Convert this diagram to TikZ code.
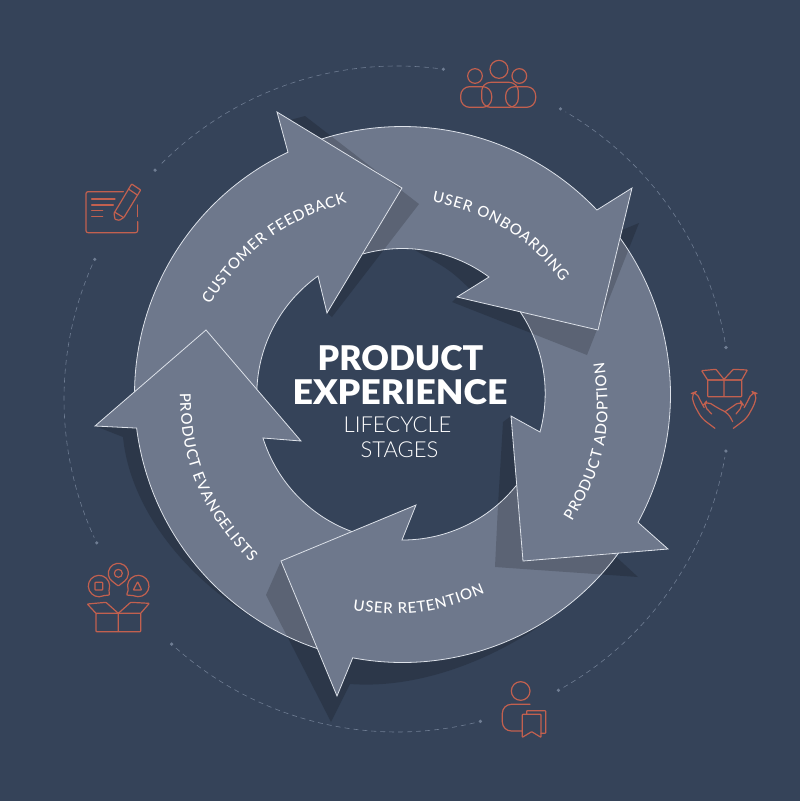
\documentclass[tikz,border=0pt]{standalone}
\usepackage{fontspec}
\setmainfont{Lato}
\newfontfamily\titlefont{Lato Black}
\newfontfamily\thinfont{Lato Light}
\newfontfamily\labelfont{Lato Medium}
\usetikzlibrary{decorations.text}

\definecolor{boardblue}{HTML}{354359}
\definecolor{petalgray}{HTML}{6E788C}
\definecolor{petaledge}{HTML}{DDE2EA}
\definecolor{iconred}{HTML}{C2604F}
\definecolor{ringgray}{HTML}{6F7D93}

\tikzset{
  petalfill/.style={fill=petalgray},
  petalline/.style={draw=petaledge,line width=0.8pt,line join=miter},
  castshadow/.style={fill=black,fill opacity=0.17},
  ringline/.style={draw=ringgray,line width=0.6pt,dash pattern=on 5pt off 4pt},
  ringdot/.style={fill=ringgray},
  iconline/.style={draw=iconred,line width=1.2pt,line join=round,line cap=round,rounded corners=0.6pt},
  iconzoom/.style={scale=0.3333,yscale=-1},
  stagelabel/.style={decorate,decoration={text along path,text align={fit to path},text color=white}}
}

% petals, in pixel coordinates, y down
\newcommand\petalOnboard{([shift={(hub)}]107.6:268) arc[start angle=107.6,end angle=43.5,radius=268] -- (632,-188) -- (598,-330) -- (457,-297) -- (489,-277) arc[start angle=53.6,end angle=105.6,radius=146]}
\newcommand\petalAdopt{([shift={(hub)}]35.7:268) arc[start angle=35.7,end angle=-28.5,radius=268] -- (668,-549) -- (523,-561) -- (511,-416) -- (540,-432) arc[start angle=-15.3,end angle=34.2,radius=146]}
\newcommand\petalRetain{([shift={(hub)}]-36.3:268) arc[start angle=-36.3,end angle=-100.7,radius=268] -- (337,-696) -- (281,-561) -- (416,-505) -- (402,-540) arc[start angle=-90.2,end angle=-38.6,radius=146]}
\newcommand\petalEvang{([shift={(hub)}]251.5:268) arc[start angle=251.5,end angle=187.2,radius=268] -- (95,-426) -- (206,-330) -- (301,-441) -- (263,-438) arc[start angle=197.3,end angle=249.7,radius=146]}
\newcommand\petalFeedback{([shift={(hub)}]179.4:268) arc[start angle=179.4,end angle=115.3,radius=268] -- (277,-112) -- (402,-188) -- (327,-313) -- (318,-276) arc[start angle=125.5,end angle=177.8,radius=146]}

\begin{document}
\begin{tikzpicture}[x=1pt,y=1pt]
  \useasboundingbox (0,0) rectangle (800,-801);
  \fill[boardblue] (0,0) rectangle (800,-801);
  \coordinate (hub) at (402.5,-394.5);
  \coordinate (ring) at (397,-399);
%
  % dashed ring
  \foreach \from/\to in {82/136.6,155.2/205.6,227.4/284.5,299/351,8.9/60.6}{
    \pgfmathsetmacro\dashfrom{\from+1}
    \pgfmathsetmacro\dashto{\to-1}
    \draw[ringline] ([shift={(ring)}]\dashfrom:333) arc[start angle=\dashfrom,end angle=\dashto,radius=333];
    \fill[ringdot] ([shift={(ring)}]\from:333) circle (1.8);
    \fill[ringdot] ([shift={(ring)}]\to:333) circle (1.8);
  }
%
  % petal bodies, each closed through the tip that covers its tail
  \foreach \petal/\tip in {\petalOnboard/{(402,-188)},\petalAdopt/{(598,-330)},\petalRetain/{(523,-561)},\petalEvang/{(281,-561)},\petalFeedback/{(206,-330)}}
    \fill[petalfill] \petal -- \tip -- cycle;
%
  % shadows
  \fill[castshadow] (290,-120) -- (305,-116) -- (419,-204) -- (332,-317) -- (327,-313) -- (402,-188) -- cycle;
  \fill[castshadow] (622,-230) -- (639,-223) -- (587,-355) -- (452,-302) -- (457,-297) -- (598,-330) -- cycle;
  \fill[castshadow] ([shift={(hub)}]86:146) arc[start angle=86,end angle=53.6,radius=146] -- (470,-289) .. controls (450,-270) .. cycle;
  \fill[castshadow] (511,-416) -- (503,-422) -- (498,-505) -- (495,-567) -- (638,-577) -- (612,-553) -- (523,-561) -- cycle;
  \fill[castshadow] (281,-561) -- (266,-595) -- (331,-722) -- (350,-684) .. controls (430,-690) and (520,-650) .. ([shift={(hub)}]-47:268) arc[start angle=-47,end angle=-100.7,radius=268] -- (337,-696) -- cycle;
  \fill[castshadow] (95,-426) -- (123,-437) .. controls (130,-510) and (190,-590) .. ([shift={(hub)}]244.5:268) arc[start angle=244.5,end angle=187.2,radius=268] -- cycle;
%
  % petal outlines
  \foreach \petal in {\petalOnboard,\petalAdopt,\petalRetain,\petalEvang,\petalFeedback}
    \draw[petalline] \petal;
%
  % centre text
  \node[anchor=base,text=white,font=\titlefont\fontsize{34}{34}\selectfont] (title1) at (400.5,-370) {PRODUCT};
  \node[anchor=base,text=white,xscale=1.05,font=\titlefont\fontsize{34}{34}\selectfont] (title2) at (400,-404) {EXPERIENCE};
  \node[anchor=base,text=white,font=\thinfont\fontsize{22}{22}\selectfont] (sub1) at (397.5,-432) {LIFECYCLE};
  \node[anchor=base,text=white,font=\thinfont\fontsize{22}{22}\selectfont] (sub2) at (399.5,-457) {STAGES};
%
  % stage labels
  \path[stagelabel,decoration={text={|\labelfont\fontsize{15}{15}\selectfont|USER ONBOARDING}}] (432,-202) to[bend left=20] (562,-282);
  \path[stagelabel,decoration={text={|\labelfont\fontsize{15}{15}\selectfont|PRODUCT ADOPTION}}] (572,-521) to[bend right=20] (604,-362);
  \path[stagelabel,decoration={text={|\labelfont\fontsize{15}{15}\selectfont|USER RETENTION}}] (353,-610) to[bend right=16] (485,-593);
  \path[stagelabel,decoration={text={|\labelfont\fontsize{15}{15}\selectfont|PRODUCT EVANGELISTS}}] (180,-393) to[bend right=22] (251,-562);
  \path[stagelabel,decoration={text={|\labelfont\fontsize{15}{15}\selectfont|CUSTOMER FEEDBACK}}] (210,-305) to[bend left=21] (347,-203);
%
  % people icon
  \begin{scope}[shift={(440,-40)},iconzoom]
    \draw[iconline] (105,108) circle (22) (177,88) circle (27) (238,108) circle (22);
    \draw[iconline,rounded corners=9pt] (62,202) -- (62,140) -- (155,140) -- (155,202) -- cycle;
    \draw[iconline,rounded corners=9pt] (125,202) -- (125,127) -- (235,127) -- (235,202) -- cycle;
    \draw[iconline,rounded corners=9pt] (197,202) -- (197,140) -- (287,140) -- (287,202) -- cycle;
  \end{scope}
  % note icon
  \begin{scope}[shift={(60,-40)},iconzoom]
    \draw[iconline,rounded corners=2pt] (190,455) -- (78,455) -- (78,578) -- (233,578) -- (233,545);
    \draw[iconline] (233,530) -- (233,495);
    \draw[iconline] (95,477) -- (165,477) (95,495) -- (160,495) (95,512) -- (128,512) (95,530) -- (128,530);
    \draw[iconline] (215,432) -- (242,450) -- (192,532) -- (178,541) -- (165,538) -- (162,520) -- cycle;
    \draw[iconline] (205,447) -- (232,465) (165,517) -- (190,532);
  \end{scope}
  % hands and box icon
  \begin{scope}[shift={(660,-340)},iconzoom]
    \draw[iconline] (143,120) rectangle (245,170) (192,118) -- (192,170);
    \draw[iconline] (143,120) -- (125,92) -- (168,88) -- (192,118) -- (220,88) -- (262,90) -- (245,120) -- cycle;
    \draw[iconline,rounded corners=5pt] (165,265) -- (125,235) -- (100,190) -- (95,160) -- (108,155) -- (125,190) -- (128,195);
    \draw[iconline,rounded corners=5pt] (155,222) -- (130,195) -- (140,183) -- (175,205) -- (205,220) -- (218,245);
    \draw[iconline,rounded corners=5pt] (220,265) -- (260,235) -- (285,190) -- (290,160) -- (277,155) -- (260,190) -- (257,195);
    \draw[iconline,rounded corners=5pt] (228,222) -- (250,195) -- (242,183) -- (195,215);
  \end{scope}
  % open box icon
  \begin{scope}[shift={(70,-540)},iconzoom]
    \draw[iconline] (78,220) rectangle (212,275) (145,220) -- (145,275);
    \draw[iconline] (78,220) -- (52,192) -- (108,187) -- (145,220) -- (182,187) -- (238,190) -- (212,220);
    \draw[iconline] (145,138) -- (127.8,124.6) arc[start angle=125,end angle=415,radius=30] -- cycle;
    \draw[iconline] (118,165) -- (100.5,167) arc[start angle=65,end angle=380,radius=32] -- cycle;
    \draw[iconline] (170,165) -- (174.9,148.9) arc[start angle=160,end angle=475,radius=32] -- cycle;
    \draw[iconline] (145,100) circle (12) (75,127) rectangle (98,150) (203,125) -- (190,150) -- (215,150) -- cycle;
  \end{scope}
  % person and bookmark icon
  \begin{scope}[shift={(470,-660)},iconzoom]
    \draw[iconline] (152,93) circle (28);
    \draw[iconline,rounded corners=9pt] (180,133) -- (97,133) -- (97,213) -- (155,213);
    \draw[iconline] (157,163) -- (213,163) -- (213,232) -- (185,215) -- (157,232) -- cycle;
    \draw[iconline] (170,163) -- (170,152) -- (227,152) -- (227,220) -- (213,220);
  \end{scope}
\end{tikzpicture}
\end{document}
